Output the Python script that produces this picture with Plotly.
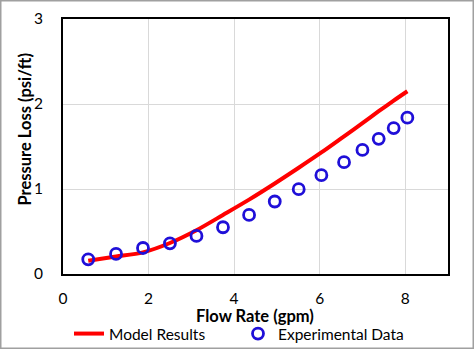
import plotly.graph_objects as go

flow_exp = [0.59, 1.24, 1.87, 2.50, 3.12, 3.74, 4.35, 4.95, 5.51, 6.04, 6.57, 7.00, 7.38, 7.73, 8.05]
loss_exp = [0.173, 0.236, 0.306, 0.361, 0.448, 0.55, 0.695, 0.853, 0.998, 1.163, 1.316, 1.46, 1.59, 1.717, 1.839]
flow_model = [0.59, 1.24, 1.87, 2.50, 3.12, 3.74, 4.35, 4.95, 5.51, 6.04, 6.57, 7.00, 7.38, 7.73, 8.05]
loss_model = [0.157, 0.205, 0.255, 0.365, 0.515, 0.695, 0.875, 1.065, 1.25, 1.43, 1.62, 1.775, 1.915, 2.04, 2.15]
x_ticks = [0, 2, 4, 6, 8]
y_ticks = [0, 1, 2, 3]

FONT = "Lato"
W, H = 474, 349
L, R, T, B = 63, 26, 19, 75
pw, ph = W - L - R, H - T - B

def px_x(px):
    return (px - L) / pw

def px_y(py):
    return (H - B - py) / ph

fig = go.Figure()
fig.add_trace(go.Scatter(x=flow_model, y=loss_model, mode="lines", name="Model Results",
                         line=dict(color="#ff0000", width=4, shape="spline", smoothing=0.8)))
fig.add_trace(go.Scatter(x=flow_exp, y=loss_exp, mode="markers", name="Experimental Data",
                         marker=dict(symbol="circle-open", size=11, color="#1f0fd8",
                                     line=dict(width=2.8, color="#1f0fd8"))))

# outer gray frame
fig.add_shape(type="rect", xref="paper", yref="paper",
              x0=px_x(0.75), x1=px_x(W - 0.75), y0=px_y(H - 0.75), y1=px_y(0.75),
              line=dict(color="#a0a0a0", width=1.5), layer="below")

fig.add_annotation(text="<b>Flow Rate (gpm)</b>", xref="paper", yref="paper",
                   x=px_x(255), y=px_y(316), showarrow=False, xanchor="center", yanchor="middle",
                   font=dict(size=16.5))
fig.add_annotation(text="<b>Pressure Loss (psi/ft)</b>", xref="paper", yref="paper",
                   x=px_x(24.5), y=px_y(130), showarrow=False, xanchor="center", yanchor="middle",
                   textangle=-90, font=dict(size=16.5))

fig.update_layout(
    width=W, height=H,
    margin=dict(l=L, r=R, t=T, b=B, autoexpand=False),
    paper_bgcolor="white", plot_bgcolor="white",
    font=dict(family=FONT, size=15.5, color="#000000"),
    showlegend=True,
    legend=dict(orientation="h", x=px_x(69), xanchor="left", y=px_y(334), yanchor="middle",
                font=dict(size=15.5), entrywidth=124, tracegroupgap=0,
                bgcolor="rgba(0,0,0,0)"),
    xaxis=dict(range=[0, 9], tickvals=x_ticks, showgrid=True, gridcolor="#d9d9d9", gridwidth=1.3,
               showline=True, linecolor="black", linewidth=2, mirror=True, zeroline=False,
               ticks="", ticklabelstandoff=9),
    yaxis=dict(range=[0, 3], tickvals=y_ticks, showgrid=True, gridcolor="#d9d9d9", gridwidth=1.3,
               showline=True, linecolor="black", linewidth=2, mirror=True, zeroline=False,
               ticks="", ticklabelstandoff=15),
)

fig.write_html("out.html")
